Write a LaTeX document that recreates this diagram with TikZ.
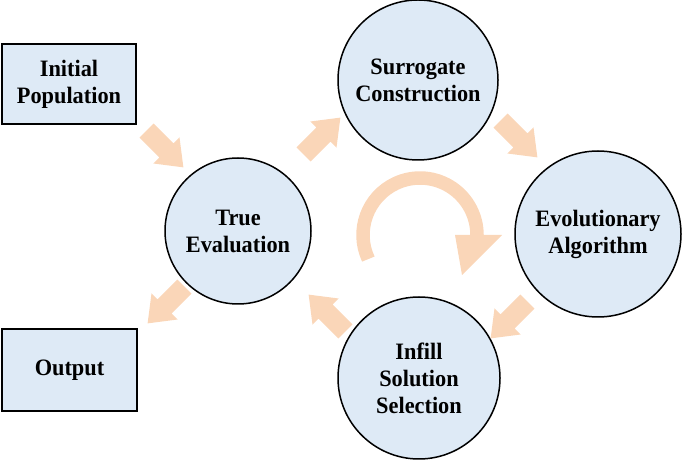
\documentclass[tikz,border=0pt]{standalone}
\usepackage{fontspec}
\setmainfont{Liberation Serif}[FakeStretch=0.95]
\usetikzlibrary{calc}
\definecolor{boxfill}{HTML}{DEEAF6}
\definecolor{arrowfill}{HTML}{FAD6B8}
\tikzset{
  x=1pt, y=1pt,
  lbl/.style={font=\bfseries\fontsize{23.5}{27}\selectfont, align=center, text=black},
  rectbox/.style={lbl, draw=black, line width=1.5pt, fill=boxfill, rectangle, inner sep=0pt},
  circbox/.style={lbl, draw=black, line width=1.5pt, fill=boxfill, circle, inner sep=0pt},
  barrow/.pic={\fill[arrowfill] (-26,-10) -- (2,-10) -- (2,-18.5) -- (26,0) -- (2,18.5) -- (2,10) -- (-26,10) -- cycle;}
}
\begin{document}
\begin{tikzpicture}
\useasboundingbox (0,0) rectangle (685,460);
% nodes
\node[rectbox, minimum width=134, minimum height=80] (init) at (69,376) {Initial\\Population};
\node[rectbox, minimum width=135, minimum height=82] (output) at (69.5,90) {Output};
\node[circbox, minimum size=146] (true) at (238,229) {True\\Evaluation};
\node[circbox, minimum size=160] (surr) at (418,380) {Surrogate\\Construction};
\node[circbox, minimum size=166] (evol) at (598,226) {Evolutionary\\Algorithm};
\node[circbox, minimum size=162] (infill) at (419,82) {Infill\\Solution\\Selection};
% block arrows
\pic[rotate=-45] at (165,311) {barrow};
\pic[rotate=45] at (322,324) {barrow};
\pic[rotate=-45] at (519,321) {barrow};
\pic[rotate=-135] at (509,140) {barrow};
\pic[rotate=135] at (327,147) {barrow};
\pic[rotate=-135] at (166,155) {barrow};
% circular arrow
\coordinate (cc) at (420,225);
\draw[arrowfill, line width=13.5pt] ($(cc)+(205:57)$) arc[start angle=205, end angle=0, radius=57];
\fill[arrowfill] (455,225) -- (502,225) -- (462,185) -- cycle;
\end{tikzpicture}
\end{document}
